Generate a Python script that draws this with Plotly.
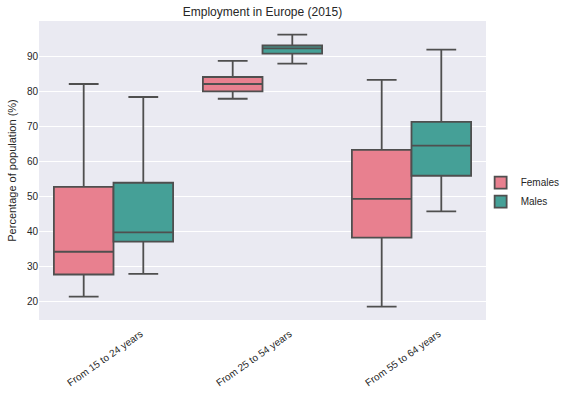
import plotly.graph_objects as go

categories = ["From 15 to 24 years", "From 25 to 54 years", "From 55 to 64 years"]

fem_low = [21.4, 77.9, 18.5]
fem_q1 = [27.7, 80.0, 38.2]
fem_med = [34.2, 82.1, 49.3]
fem_q3 = [52.7, 84.1, 63.3]
fem_high = [82.1, 88.7, 83.3]

male_low = [27.9, 87.9, 45.7]
male_q1 = [37.1, 90.8, 55.9]
male_med = [39.7, 92.3, 64.5]
male_q3 = [53.9, 93.1, 71.3]
male_high = [78.4, 96.2, 91.9]

y_ticks = [20, 30, 40, 50, 60, 70, 80, 90]

edge = "#4f4f4f"
fig = go.Figure()
fig.add_trace(go.Box(
    name="Females", x=categories, q1=fem_q1, median=fem_med, q3=fem_q3,
    lowerfence=fem_low, upperfence=fem_high,
    fillcolor="#e8808f", line=dict(color=edge, width=1.8),
    whiskerwidth=0.5, boxpoints=False, hoverinfo="skip",
))
fig.add_trace(go.Box(
    name="Males", x=categories, q1=male_q1, median=male_med, q3=male_q3,
    lowerfence=male_low, upperfence=male_high,
    fillcolor="#45a097", line=dict(color=edge, width=1.8),
    whiskerwidth=0.5, boxpoints=False, hoverinfo="skip",
))

for c in categories:
    fig.add_annotation(x=c, xref="x", y=0, yref="paper", text=c, showarrow=False,
                       textangle=-35, xanchor="center", yanchor="middle",
                       yshift=-38, xshift=-9, font=dict(size=10, color="#262626"))

fig.update_layout(
    width=572, height=394,
    margin=dict(l=39, r=86, t=21, b=74, autoexpand=False),
    boxmode="group", boxgap=0.2, boxgroupgap=0,
    paper_bgcolor="white", plot_bgcolor="#eaeaf2",
    font=dict(family="Liberation Sans, Arial, sans-serif", size=10, color="#262626"),
    title=dict(text="Employment in Europe (2015)", x=0.5, xanchor="center",
               xref="paper", y=1 - 12 / 394, yanchor="middle",
               font=dict(size=12, color="#262626")),
    showlegend=True,
    legend=dict(x=0.988, y=0.428, xanchor="left", yanchor="middle",
                font=dict(size=10, color="#262626"), bgcolor="rgba(0,0,0,0)",
                tracegroupgap=0, itemwidth=30),
    xaxis=dict(showgrid=False, showticklabels=False, ticks="",
               showline=False, zeroline=False, automargin=False),
    yaxis=dict(range=[14.7, 100.1], tickvals=y_ticks, gridcolor="white",
               gridwidth=1, zeroline=False, showline=False, ticks="",
               tickfont=dict(size=10), automargin=False,
               title=dict(text="Percentage of population (%)", font=dict(size=11), standoff=8)),
)

fig.write_html("out.html", config={"displayModeBar": False},
               post_script="document.body.style.margin='0';")
